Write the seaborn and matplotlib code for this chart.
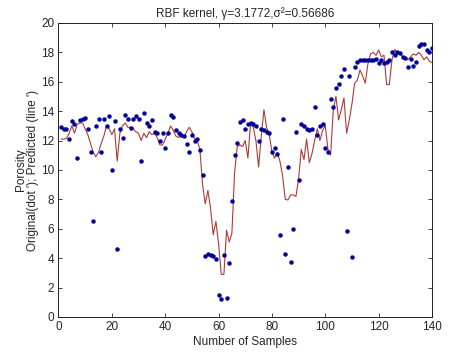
import numpy as np
import pandas as pd
import seaborn as sns
import matplotlib
matplotlib.use("Agg")
import matplotlib.pyplot as plt

# sample index
samples = list(range(1, 141))

# original porosity values (dots)
original = [
    12.9, 12.8, 12.8, 12.1, 13.3, 13.15, 10.8, 13.4, 13.5, 13.55,
    12.8, 11.2, 6.5, 13.0, 13.45, 11.2, 13.45, 13.0, 13.7, 10.0,
    13.3, 4.6, 12.8, 12.2, 13.76, 13.45, 12.85, 13.45, 13.7, 13.45,
    10.6, 13.9, 13.2, 13.0, 13.4, 12.56, 12.5, 12.0, 12.5, 11.5,
    12.5, 13.76, 13.6, 12.7, 12.5, 12.36, 12.3, 11.75, 11.2, 12.4,
    12.0, 12.1, 11.36, 9.66, 4.15, 4.3, 4.2, 4.15, 3.95, 1.5,
    1.2, 4.2, 1.3, 3.7, 7.9, 11.0, 11.86, 13.27, 13.4, 12.8,
    13.1, 13.2, 13.1, 13.0, 12.0, 12.77, 12.7, 12.6, 12.5, 11.2,
    11.5, 11.07, 5.6, 13.45, 4.3, 10.2, 3.76, 5.97, 12.56, 9.3,
    13.1, 13.0, 12.8, 12.7, 12.8, 14.3, 12.4, 13.0, 13.1, 11.5,
    11.2, 14.8, 14.3, 15.56, 15.85, 16.4, 16.85, 5.87, 16.4, 4.1,
    17.0, 17.35, 17.5, 17.5, 17.5, 17.5, 17.5, 17.5, 17.55, 17.26,
    17.5, 17.3, 17.37, 17.5, 18.0, 17.8, 18.0, 17.96, 17.7, 17.6,
    17.0, 17.55, 17.07, 17.37, 18.4, 18.6, 18.6, 18.16, 18.05, 18.27,
]

# predicted porosity values (line)
predicted = [
    12.1, 12.1, 12.15, 12.5, 13.0, 12.5, 13.1, 13.2, 13.2, 12.8,
    12.4, 11.8, 11.2, 10.9, 11.2, 11.8, 12.3, 13.0, 12.8, 12.4,
    12.8, 10.6, 12.5, 13.0, 13.2, 12.9, 12.9, 12.8, 12.6, 12.5,
    12.0, 12.5, 12.2, 12.6, 12.4, 12.5, 12.2, 11.7, 11.7, 12.1,
    12.5, 13.0, 12.7, 12.3, 12.2, 12.5, 12.2, 12.6, 12.9, 12.6,
    12.1, 12.0, 11.4, 9.0, 7.7, 8.6, 7.4, 5.6, 6.5, 5.0,
    2.9, 2.9, 5.9, 5.1, 5.7, 9.8, 11.6, 11.7, 11.6, 12.0,
    10.8, 13.2, 12.9, 12.0, 10.2, 12.3, 14.1, 12.9, 12.4, 11.25,
    10.8, 11.2, 10.6, 9.6, 8.0, 7.96, 8.3, 8.3, 8.2, 9.4,
    11.4, 10.7, 12.1, 10.5, 11.1, 12.0, 12.8, 12.0, 12.7, 13.0,
    11.4, 11.0, 14.1, 15.0, 13.4, 14.1, 14.9, 12.5, 13.4, 14.5,
    15.9, 16.1, 16.8, 16.4, 15.9, 17.26, 17.9, 18.0, 17.8, 18.16,
    17.7, 17.8, 15.8, 15.8, 17.5, 18.2, 17.9, 17.9, 17.7, 17.6,
    17.5, 17.7, 17.9, 17.8, 18.0, 17.8, 17.5, 17.7, 17.4, 17.3,
]

xticks = [0, 20, 40, 60, 80, 100, 120, 140]
yticks = [0, 2, 4, 6, 8, 10, 12, 14, 16, 18, 20]

df = pd.DataFrame({"sample": samples, "original": original, "predicted": predicted})

sns.set_style("ticks")
plt.rcParams['font.family'] = ['Liberation Sans', 'DejaVu Sans']
plt.rcParams['xtick.direction'] = 'in'
plt.rcParams['ytick.direction'] = 'in'

fig = plt.figure(figsize=(4.74, 3.53), dpi=100)
ax = fig.add_axes([0.1234, 0.102, 0.788, 0.833])

sns.lineplot(data=df, x="sample", y="predicted", color="#b03a36", lw=0.8, ax=ax)
sns.scatterplot(data=df, x="sample", y="original", color="#00009a", s=8,
                edgecolor="#00009a", linewidth=0.3, ax=ax, zorder=3)

ax.set_xlim(0, 140)
ax.set_ylim(0, 20)
ax.set_xticks(xticks)
ax.set_yticks(yticks)
ax.tick_params(labelsize=8.5, length=3, width=0.6, top=True, right=True, pad=3)
for s in ax.spines.values():
    s.set_visible(True)
    s.set_linewidth(0.7)
    s.set_color("#222222")

ax.set_title("RBF kernel, γ=3.1772,σ²=0.56686", fontsize=8.5, pad=4)
ax.set_xlabel("Number of Samples", fontsize=8.5, labelpad=2)
ax.set_ylabel("Porosity\nOriginal(dot '); Predicted (line ')", fontsize=8.5,
              linespacing=1.0)
ax.yaxis.set_label_coords(-0.052, 0.5)

fig.savefig("out.png", dpi=100)
